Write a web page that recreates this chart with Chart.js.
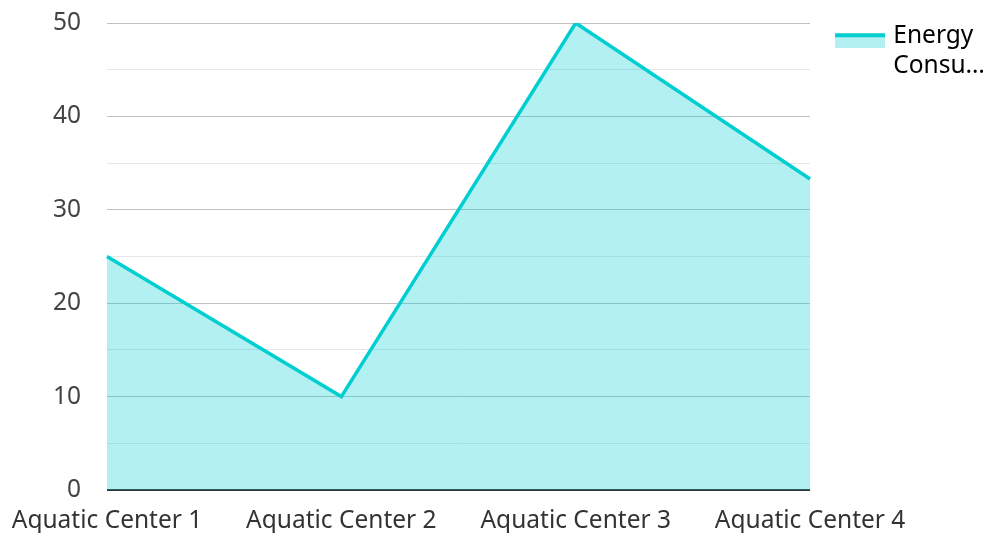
<!DOCTYPE html>
<html>
<head>
<meta charset="utf-8">
<script src="https://cdn.jsdelivr.net/npm/chart.js@4/dist/chart.umd.min.js"></script>
<style>
  html, body { margin: 0; padding: 0; background: #fff; }
  #wrap { width: 988px; height: 533px; position: relative; }
</style>
</head>
<body>
<div id="wrap"><canvas id="c"></canvas></div>
<script>
const categories = ['Aquatic Center 1', 'Aquatic Center 2', 'Aquatic Center 3', 'Aquatic Center 4'];
const seriesName = 'Energy Consumption';
const legendLines = ['Energy', 'Consu…'];
const energyValues = [25, 10, 50, 33.3];
const yTicks = [0, 10, 20, 30, 40, 50];

const LINE = '#00CED1';
const FILL = 'rgba(0,206,209,0.3)';

// legend swatch: thick line on top, translucent fill below
function makeSwatch() {
  const c = document.createElement('canvas');
  c.width = 55; c.height = 24;
  const g = c.getContext('2d');
  g.fillStyle = FILL;
  g.fillRect(5, 9, 50, 15);
  g.fillStyle = LINE;
  g.fillRect(5, 9, 50, 4);
  return c;
}
const swatch = makeSwatch();

Chart.defaults.font.family = '"Noto Sans", sans-serif';
Chart.defaults.font.size = 24.5;
Chart.defaults.color = '#444';

new Chart(document.getElementById('c'), {
  type: 'line',
  data: {
    labels: categories,
    datasets: [{
      label: seriesName,
      data: energyValues,
      borderColor: LINE,
      backgroundColor: FILL,
      borderWidth: 3.5,
      fill: 'origin',
      tension: 0,
      pointRadius: 0,
      pointHoverRadius: 0
    }]
  },
  options: {
    responsive: true,
    maintainAspectRatio: false,
    animation: false,
    layout: { padding: { top: 0, right: -7, bottom: 0, left: 0 } },
    plugins: {
      tooltip: { enabled: false },
      legend: {
        position: 'right',
        align: 'start',
        labels: {
          usePointStyle: true,
          pointStyleWidth: 47,
          boxHeight: 24,
          padding: 24,
          color: '#333',
          font: { size: 24.5 },
          generateLabels: (chart) => [{
            text: legendLines,
            pointStyle: swatch,
            fillStyle: FILL,
            strokeStyle: LINE,
            lineWidth: 0,
            hidden: false,
            datasetIndex: 0
          }]
        }
      }
    },
    scales: {
      x: {
        offset: false,
        grid: { display: false },
        border: { display: false },
        ticks: { padding: 8, maxRotation: 0, autoSkip: false, color: '#333' },
        afterFit: (s) => { s.height = 43; s.paddingLeft = 0; s.paddingRight = 0; }
      },
      y: {
        min: 0,
        max: 50,
        border: { display: false },
        grid: {
          drawTicks: false,
          lineWidth: (ctx) => (ctx.tick && ctx.tick.value === 0 ? 2 : 1),
          color: (ctx) => {
            if (!ctx.tick) return '#e6e6e6';
            const v = ctx.tick.value;
            if (v === 0) return '#333';
            return v % 10 === 0 ? '#c0c0c0' : '#e6e6e6';
          }
        },
        ticks: {
          stepSize: 5,
          padding: 26,
          color: '#444',
          callback: (v) => (yTicks.includes(v) ? String(v) : '')
        },
        afterFit: (s) => { s.width = 107; s.paddingTop = 23; s.paddingBottom = 0; }
      }
    }
  }
});
</script>
</body>
</html>
